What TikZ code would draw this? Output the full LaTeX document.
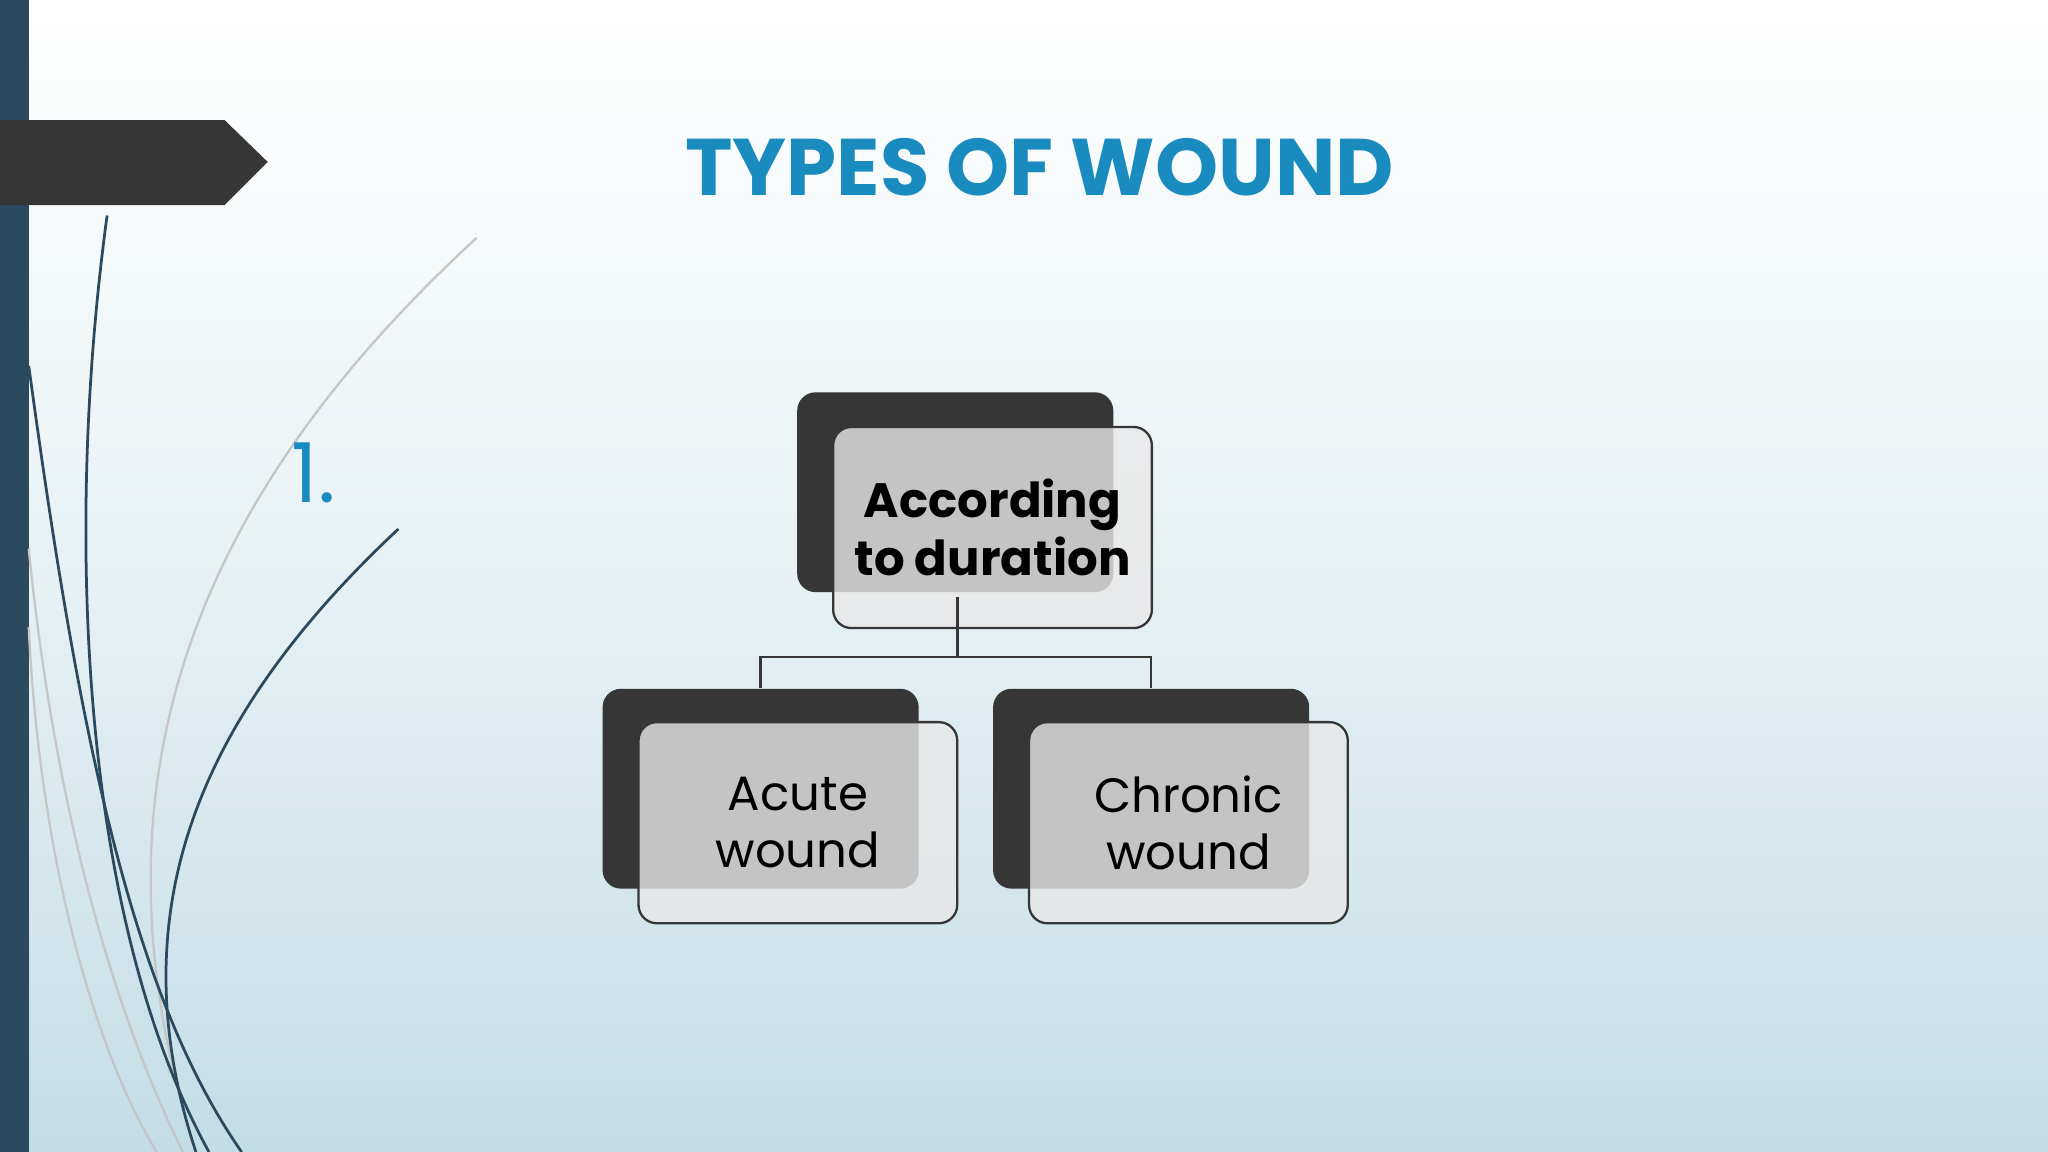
\documentclass[tikz,border=0pt]{standalone}
\usepackage{fontspec}
\setmainfont{Poppins}
\definecolor{bgtop}{HTML}{FFFFFF}
\definecolor{bgbot}{HTML}{C3DDE5}
\definecolor{navy}{HTML}{2B4A60}
\definecolor{dark}{HTML}{363636}
\definecolor{titleblue}{HTML}{1A8BBF}
\tikzset{
  darkbox/.style={rectangle, rounded corners=8pt, fill=dark, minimum width=242*0.02cm, minimum height=153*0.02cm, anchor=north west, inner sep=0pt},
  lightbox/.style={rectangle, rounded corners=8pt, fill=white!82!gray, fill opacity=0.8, text opacity=1, draw=dark, line width=1pt, minimum width=244*0.02cm, minimum height=154*0.02cm, inner sep=0pt, anchor=north west, align=center, font=\fontsize{21}{25}\selectfont},
  conn/.style={draw=dark, line width=1pt},
  swoosh/.style={draw=navy, line width=1.2pt},
  pale/.style={draw=gray!45, line width=1pt}
}
\begin{document}
\begin{tikzpicture}[x=0.02cm,y=-0.02cm]
\useasboundingbox (0,0) rectangle (1568,882);
\shade[top color=bgtop, bottom color=bgbot, middle color=bgtop!60!bgbot] (0,0) rectangle (1568,882);
\fill[navy] (0,0) rectangle (22,882);
% swooshes
\draw[pale] (365,182) .. controls (150,380) and (60,600) .. (150,882);
\draw[pale] (22,420) .. controls (40,600) and (80,760) .. (140,882);
\draw[pale] (22,480) .. controls (30,650) and (70,800) .. (120,882);
\draw[swoosh] (82,165) .. controls (50,400) and (60,700) .. (160,882);
\draw[swoosh] (22,280) .. controls (60,560) and (100,760) .. (185,882);
\draw[swoosh] (305,405) .. controls (150,550) and (90,700) .. (150,882);
\fill[dark] (0,92) -- (172,92) -- (205,124) -- (172,157) -- (0,157) -- cycle;
\node[text=titleblue, font=\fontsize{35}{40}\selectfont\bfseries] (title) at (796,128) {TYPES OF WOUND};
\node[text=titleblue, font=\fontsize{36}{40}\selectfont] (num) at (240,362) {1.};
% boxes
\node[darkbox] (d0) at (610,300) {};
\node[lightbox, font=\fontsize{21}{25}\selectfont\bfseries] (l0) at (637,326) {According\\to duration};
\node[darkbox] (d1) at (461,527) {};
\node[lightbox] (l1) at (488,552) {Acute\\wound};
\node[darkbox] (d2) at (760,527) {};
\node[lightbox] (l2) at (787,552) {Chronic\\wound};
\coordinate (top) at (733,457);
\coordinate (mid) at (733,503);
\draw[conn] (top) -- (mid);
\draw[conn] (mid) -| (d1.north);
\draw[conn] (mid) -| (d2.north);
\end{tikzpicture}
\end{document}
